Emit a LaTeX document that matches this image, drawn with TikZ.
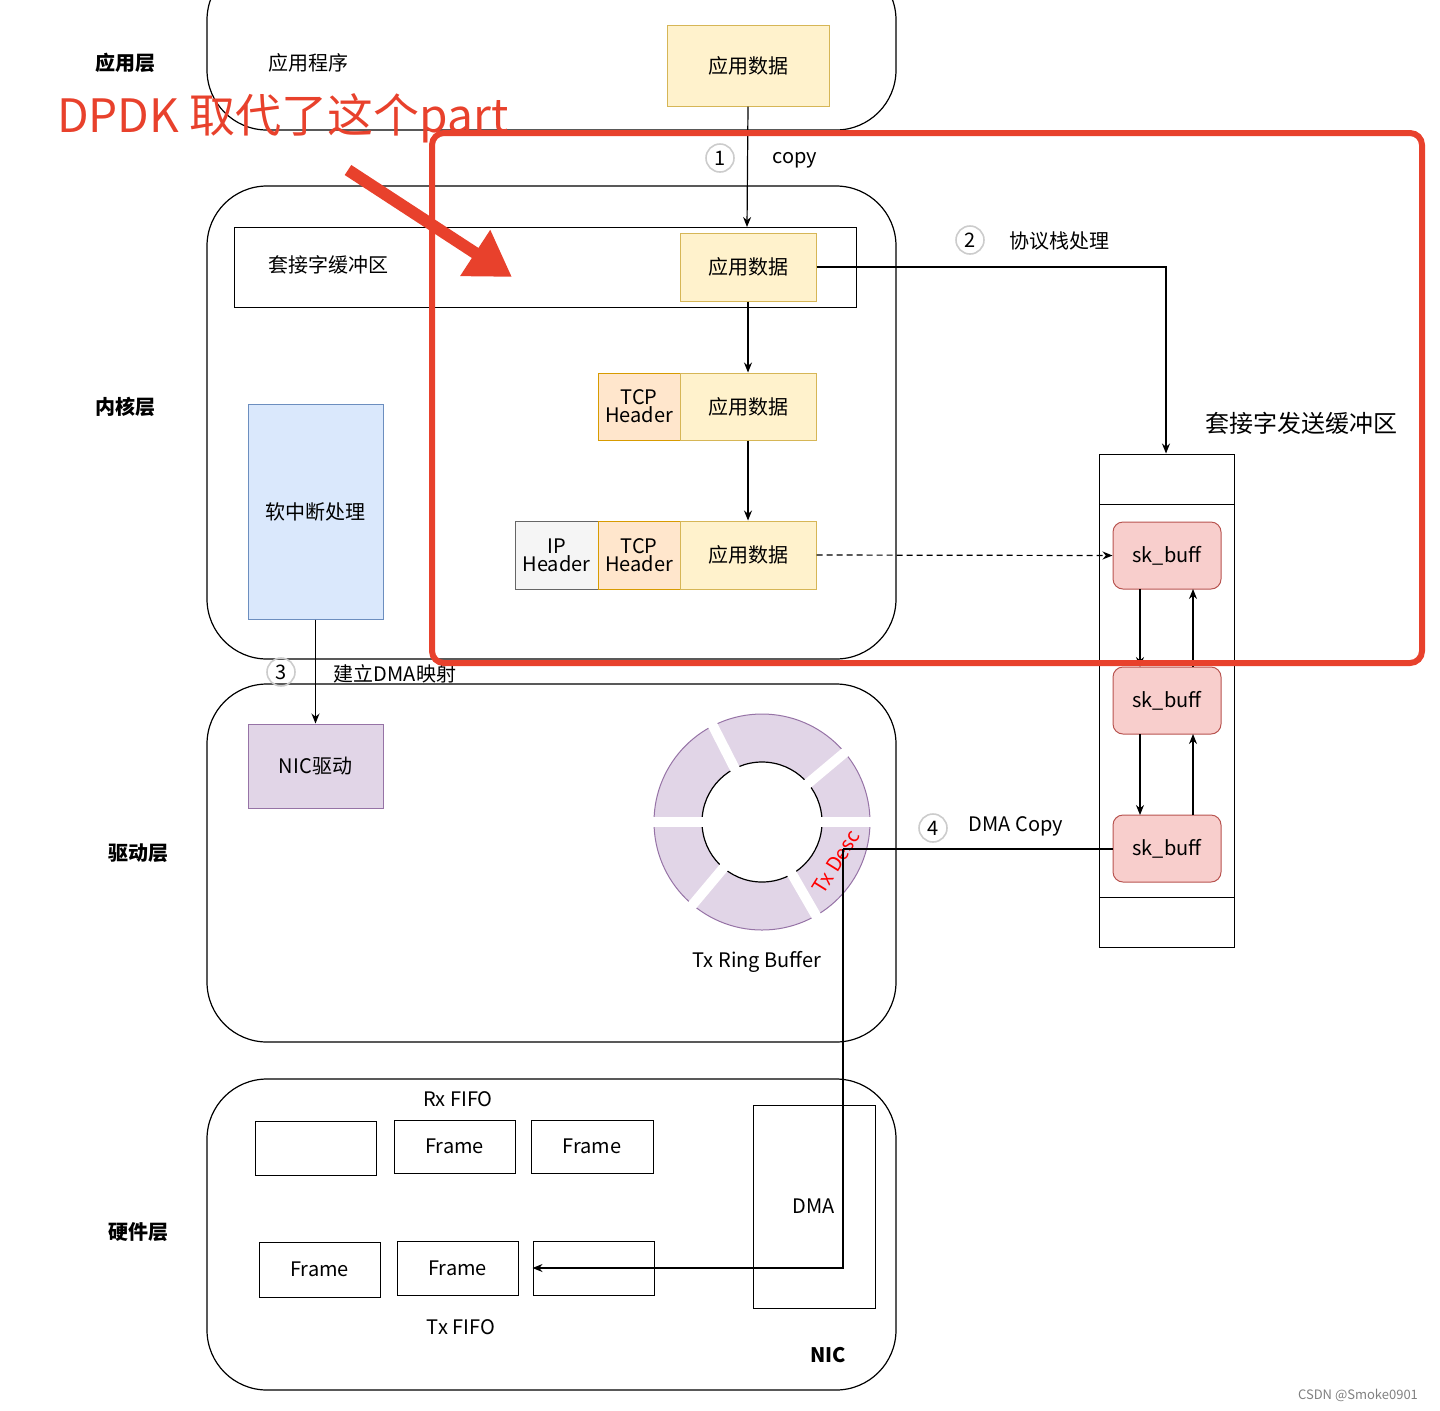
\documentclass[tikz,border=0pt]{standalone}
\usepackage{fontspec}
\setmainfont{Noto Sans CJK SC}
\usetikzlibrary{arrows.meta}
\definecolor{yf}{HTML}{FFF2CC}\definecolor{yd}{HTML}{D6B656}
\definecolor{of}{HTML}{FFE6CC}\definecolor{od}{HTML}{D79B00}
\definecolor{gf}{HTML}{F5F5F5}\definecolor{gd}{HTML}{666666}
\definecolor{bf}{HTML}{DAE8FC}\definecolor{bd}{HTML}{6C8EBF}
\definecolor{pf}{HTML}{E1D5E7}\definecolor{pd}{HTML}{9673A6}
\definecolor{rf}{HTML}{F8CECC}\definecolor{rd}{HTML}{B85450}
\definecolor{dr}{HTML}{E8412C}
\begin{document}
\begin{tikzpicture}[x=0.5pt,y=-0.5pt,font=\fontsize{10}{12}\selectfont,
 layer/.style={draw,rounded corners=30pt,line width=0.6pt},
 box/.style={draw,line width=0.5pt,align=center,inner sep=0pt},
 yel/.style={box,fill=yf,draw=yd},
 ora/.style={box,fill=of,draw=od},
 gry/.style={box,fill=gf,draw=gd},
 skb/.style={box,fill=rf,draw=rd,rounded corners=5pt},
 arr/.style={-{Stealth[length=5pt,width=4pt]},line width=0.6pt},
 num/.style={circle,draw=gray!40,line width=0.8pt,minimum size=14pt,inner sep=0pt},
 lbl/.style={font=\fontsize{10}{12}\selectfont\bfseries}]
\useasboundingbox (0,0) rectangle (1440,1410);
\def\bx#1#2#3#4#5#6#7{\node[#1,minimum width={(#4-#2)*0.5pt},minimum height={(#5-#3)*0.5pt}] (#6) at ({(#2+#4)/2},{(#3+#5)/2}) {#7};}
% layers
\draw[layer] (207,-40) rectangle (896,130);
\draw[layer] (207,186) rectangle (896,659);
\draw[layer] (207,684) rectangle (896,1042);
\draw[layer] (207,1079) rectangle (896,1390);
\node[lbl] (l1) at (125,63) {应用层};
\node[lbl] (l2) at (125,407) {内核层};
\node[lbl] (l3) at (138,853) {驱动层};
\node[lbl] (l4) at (138,1232) {硬件层};
\node (apn) at (308,63) {应用程序};
\bx{yel}{667}{25}{829}{106}{a0}{应用数据}
\bx{box}{234}{227}{856}{307}{sock}{}
\node (sockt) at (328,265) {套接字缓冲区};
\bx{yel}{680}{233}{816}{301}{a1}{应用数据}
\bx{ora}{598}{373}{680}{440}{t1}{TCP\\[-3pt]Header}
\bx{yel}{680}{373}{816}{440}{a2}{应用数据}
\bx{gry}{515}{521}{598}{589}{ip}{IP\\[-3pt]Header}
\bx{ora}{598}{521}{680}{589}{t2}{TCP\\[-3pt]Header}
\bx{yel}{680}{521}{816}{589}{a3}{应用数据}
\bx{box,fill=bf,draw=bd}{248}{404}{383}{619}{soft}{软中断处理}
\bx{box,fill=pf,draw=pd}{248}{724}{383}{808}{nic}{NIC驱动}
% send buffer
\bx{box}{1099}{454}{1234}{947}{sb}{}
\draw[line width=0.5pt] (1099,504) -- (1234,504) (1099,897) -- (1234,897);
\node[font=\fontsize{12}{14}\selectfont] (sbt) at (1301,423) {套接字发送缓冲区};
\bx{skb}{1113}{522}{1221}{589}{s1}{sk\_buff}
\bx{skb}{1113}{667}{1221}{734}{s2}{sk\_buff}
\bx{skb}{1113}{815}{1221}{882}{s3}{sk\_buff}
\draw[arr] (1140,589) -- (1140,667); \draw[arr] (1193,667) -- (1193,589);
\draw[arr] (1140,734) -- (1140,815); \draw[arr] (1193,815) -- (1193,734);
% ring
\fill[pf] (762,822) circle (108);
\draw[pd,line width=0.5pt] (762,822) circle (108);
\fill[white] (762,822) circle (60);
\draw[line width=0.6pt] (762,822) circle (60);
\foreach \a in {117,40,0,180,-130,-60}
  \draw[white,line width=5pt] ({762+55*cos(\a)},{822-55*sin(\a)}) -- ({762+112*cos(\a)},{822-112*sin(\a)});
\node[red,rotate=58] (txd) at (836,862) {Tx Desc};
\node (trb) at (757,962) {Tx Ring Buffer};
% hardware
\node (rxf) at (458,1099) {Rx FIFO};
\bx{box}{255}{1121}{376}{1175}{r1}{}
\bx{box}{394}{1120}{515}{1173}{r2}{Frame}
\bx{box}{531}{1120}{653}{1173}{r3}{Frame}
\bx{box}{259}{1242}{380}{1297}{f1}{Frame}
\bx{box}{397}{1241}{518}{1295}{f2}{Frame}
\bx{box}{533}{1241}{654}{1295}{f3}{}
\node (txf) at (461,1327) {Tx FIFO};
\bx{box}{753}{1105}{875}{1308}{dma}{DMA}
\node[lbl] (nicl) at (828,1355) {NIC};
% connectors
\coordinate (c1) at (747,106); \coordinate (c1b) at (747,227);
\draw[arr] (a0.south) -- (c1b);
\node[num] (n1) at (720,158) {1}; \node (cp) at (795,160) {copy};
\draw[arr] (a1.east) -- (1166,267) -- (sb.north-|1166,0);
\node[num] (n2) at (970,240) {2}; \node (p2) at (1059,241) {协议栈处理};
\draw[arr] (a1.south) -- (a2.north);
\draw[arr] (a2.south) -- (a3.north);
\draw[arr,densely dashed] (a3.east) -- (s1.west);
\draw[arr] (soft.south) -- (nic.north);
\node[num] (n3) at (281,672) {3}; \node (p3) at (395,674) {建立DMA映射};
\coordinate (d1) at (843,849);
\draw[line width=0.6pt] (s3.west|-d1) -- (d1);
\draw[arr] (d1) -- (843,1268) -- (f3.west|-0,1268);
\node[num] (n4) at (933,828) {4}; \node (p4) at (1016,826) {DMA Copy};
% red annotation
\draw[dr,line width=3pt,rounded corners=6pt] (432,133) rectangle (1422,663);
\node[dr,font=\fontsize{23}{26}\selectfont,anchor=west] (dp) at (50,118) {DPDK 取代了这个part};
\coordinate (ra) at (348,170);
\draw[dr,line width=6pt,-{Triangle[length=22pt,width=26pt]}] (ra) -- (512,277);
\node[gray,font=\fontsize{6.5}{8}\selectfont,anchor=east] (wm) at (1425,1395) {CSDN @Smoke0901};
\end{tikzpicture}
\end{document}
